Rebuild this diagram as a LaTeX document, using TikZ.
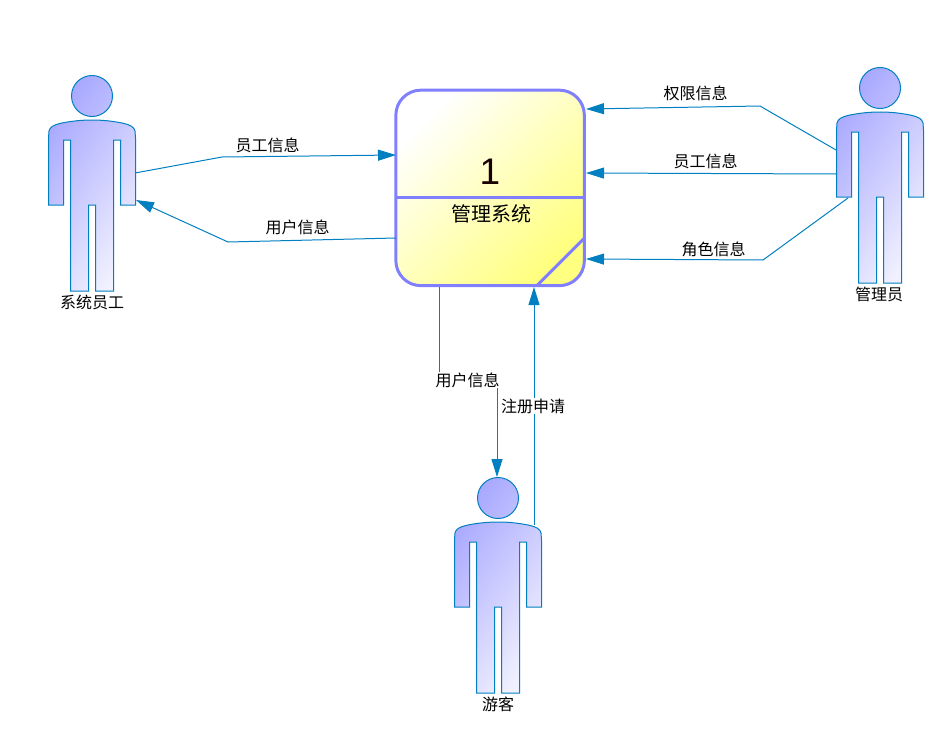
\documentclass[tikz,border=0pt]{standalone}
\usepackage{fontspec}
\setsansfont{Liberation Sans}
\newfontfamily\cjk{Noto Sans CJK SC}
\usetikzlibrary{arrows.meta}
\definecolor{flowc}{HTML}{0080C0}
\definecolor{procc}{HTML}{8080FF}
\definecolor{acta}{HTML}{A8A8FF}
\definecolor{actb}{HTML}{F0F0FF}
\tikzset{
	actor/.pic={
		\path[draw=flowc, line width=1pt, top color=acta, bottom color=actb, shading angle=55]
			(0,0) circle (20.5)
			(-43.5,42) -- (-43.5,109) -- (-28.5,109) -- (-28.5,44) -- (-21.5,44) -- (-21.5,195)
			-- (-3.5,195) -- (-3.5,109) -- (3.5,109) -- (3.5,195) -- (21.5,195) -- (21.5,44)
			-- (28.5,44) -- (28.5,109) -- (43.5,109) -- (43.5,42) -- (43,35)
			.. controls (42,31) and (39,29) .. (30,27) .. controls (20,25) and (10,24) .. (0,24)
			.. controls (-10,24) and (-20,25) .. (-30,27) .. controls (-39,29) and (-42,31) .. (-43,35) -- cycle;
	}
}
\begin{document}
\begin{tikzpicture}[
	x=1pt, y=-1pt,
	proc/.style={draw=procc, line width=3pt, rounded corners=25pt, minimum width=188.5pt, minimum height=195.5pt, inner sep=0pt, top color=white, bottom color=yellow!50!white, shading angle=45},
	procline/.style={draw=procc, line width=3pt},
	flow/.style={draw=flowc, line width=1pt},
	flowa/.style={flow, -{Triangle[length=18pt,width=11pt]}},
	lab/.style={fill=white, inner sep=1pt, font=\cjk\fontsize{16}{18}\selectfont},
	actname/.style={inner sep=0pt, font=\cjk\fontsize{16}{18}\selectfont}
]
	\useasboundingbox (0,0) rectangle (941,749);

	\pic at (92,96) {actor};
	\pic at (880,88) {actor};
	\pic at (498,498) {actor};

	\node[actname] (emp) at (92,302) {系统员工};
	\node[actname] (adm) at (879,294) {管理员};
	\node[actname] (vis) at (498,704) {游客};

	\node[proc] (P) at (490.1,187.9) {};
	\draw[procline] (396,197.3) -- (584,197.3);
	\draw[procline] (537.5,285) -- (584,238.5);
	\node[inner sep=0pt, text=black!90!red, font=\sffamily\fontsize{37}{40}\selectfont] (num) at (490,172) {1};
	\node[inner sep=0pt, font=\cjk\fontsize{20}{22}\selectfont] (sys) at (491,214) {管理系统};

	\coordinate (E1) at (135,173);
	\coordinate (E2) at (222,157);
	\coordinate (P1) at (396,155);
	\coordinate (P2) at (396,238);
	\coordinate (E3) at (228,242);
	\coordinate (E4) at (136,200);
	\coordinate (A1) at (836,150);
	\coordinate (A2) at (760,106);
	\coordinate (P3) at (586,109);
	\coordinate (A3) at (836,174);
	\coordinate (P4) at (586,173);
	\coordinate (A4) at (848,198);
	\coordinate (A5) at (763,260);
	\coordinate (P5) at (586,259);
	\coordinate (P6) at (439,287);
	\coordinate (V1) at (439,380);
	\coordinate (V2) at (497,380);
	\coordinate (V3) at (497,477);
	\coordinate (V4) at (534,525);
	\coordinate (P7) at (534,287);

	\draw[flowa] (E1) -- (E2) -- (P1);
	\draw[flowa] (P2) -- (E3) -- (E4);
	\draw[flowa] (A1) -- (A2) -- (P3);
	\draw[flowa] (A3) -- (P4);
	\draw[flowa] (A4) -- (A5) -- (P5);
	\draw[flowa] (P6) -- (V1) -- (V2) -- (V3);
	\draw[flowa] (V4) -- (P7);

	\node[lab] (l1) at (267.5,145) {员工信息};
	\node[lab] (l2) at (297.5,227) {用户信息};
	\node[lab] (l3) at (695.5,93.5) {权限信息};
	\node[lab] (l4) at (705.5,161) {员工信息};
	\node[lab] (l5) at (713.5,249) {角色信息};
	\node[lab] (l6) at (467.5,380) {用户信息};
	\node[lab] (l7) at (533,406) {注册申请};
\end{tikzpicture}
\end{document}
